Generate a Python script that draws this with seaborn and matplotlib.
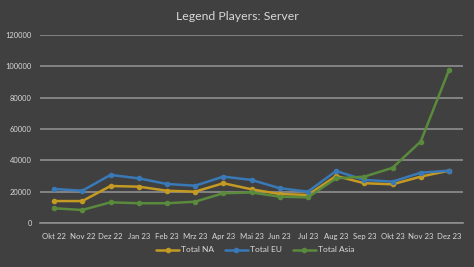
import matplotlib
matplotlib.use("Agg")
import matplotlib.pyplot as plt
import seaborn as sns
import pandas as pd
from matplotlib.ticker import FixedLocator

months = ["Okt 22", "Nov 22", "Dez 22", "Jan 23", "Feb 23", "Mrz 23", "Apr 23",
          "Mai 23", "Jun 23", "Jul 23", "Aug 23", "Sep 23", "Okt 23", "Nov 23", "Dez 23"]
total_na = [14000, 14000, 23600, 23200, 20600, 20000, 25400, 21500, 18500, 17900,
            30000, 25400, 24700, 29600, 33400]
total_eu = [21700, 20600, 30700, 28500, 24900, 23800, 29600, 27500, 22200, 20000,
            33200, 27500, 26400, 32100, 33400]
total_asia = [9400, 8300, 13200, 12600, 12600, 13600, 19000, 19500, 16800, 16400,
              28500, 29600, 35200, 52000, 97500]
series_names = ["Total NA", "Total EU", "Total Asia"]
yticks = [0, 20000, 40000, 60000, 80000, 100000, 120000]

n = len(months)

rows = []
for name, vals in zip(series_names, [total_na, total_eu, total_asia]):
    for i, v in enumerate(vals):
        rows.append({"Monat": i, "Spieler": v, "Serie": name})
df = pd.DataFrame(rows)

sns.set_theme(style="dark")
plt.rcParams["font.family"] = ["Lato", "DejaVu Sans"]

bg = "#404040"
txt = "#d9d9d9"
grid = "#8f8f8f"
palette = {"Total NA": "#c49a22", "Total EU": "#3a79b8", "Total Asia": "#5a8a3c"}

fig = plt.figure(figsize=(4.74, 2.67), dpi=100, facecolor=bg)
ax = fig.add_axes([40 / 474, 1 - 223 / 267, 423 / 474, 188 / 267])
ax.set_facecolor(bg)

sns.lineplot(data=df, x="Monat", y="Spieler", hue="Serie", palette=palette,
             hue_order=series_names, marker="o", markersize=4, markeredgewidth=0,
             linewidth=1.8, ax=ax, legend=True)

ax.set_xlim(-0.5, n - 0.5)
ax.set_ylim(0, 120000)
ax.set_yticks(yticks)
ax.set_yticklabels([str(t) for t in yticks])
ax.set_xticks(range(n))
ax.set_xticklabels(months)
ax.xaxis.set_minor_locator(FixedLocator([i - 0.5 for i in range(n + 1)]))
ax.tick_params(axis="x", which="major", length=0, colors=txt, labelsize=5.6, pad=7)
ax.tick_params(axis="x", which="minor", length=4, color=grid, width=1, direction="out")
ax.tick_params(axis="y", length=0, colors=txt, labelsize=5.4, pad=6)
for s in ["top", "right", "left"]:
    ax.spines[s].set_visible(False)
ax.spines["bottom"].set_color(grid)
ax.spines["bottom"].set_linewidth(1.2)
ax.grid(axis="y", color=grid, linewidth=1.2)
ax.grid(axis="x", visible=False)
ax.set_axisbelow(True)
ax.set_xlabel("")
ax.set_ylabel("")

handles, labels = ax.get_legend_handles_labels()
ax.get_legend().remove()
fig.legend(handles, labels, loc="center", bbox_to_anchor=(255 / 474, 1 - 250 / 267),
           ncol=3, frameon=False, fontsize=6, labelcolor=txt, handlelength=2.8,
           columnspacing=1.3, handletextpad=0.2)

fig.text(237 / 474, 1 - 16 / 267, "Legend Players: Server", ha="center", va="center",
         color=txt, fontsize=8.8)

fig.savefig("out.png", dpi=100, facecolor=bg)
